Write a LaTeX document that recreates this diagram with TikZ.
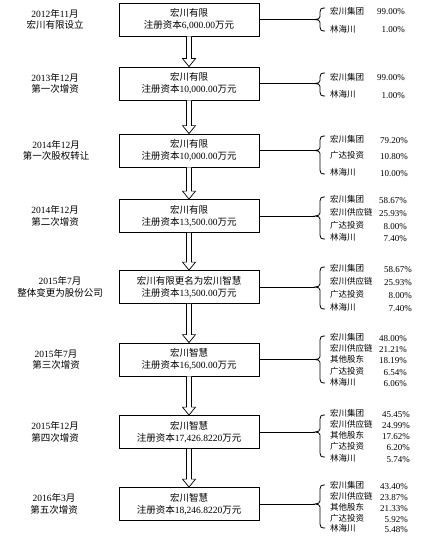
\documentclass[tikz,border=0pt]{standalone}
\usepackage{fontspec}
\setmainfont{Liberation Serif}
\newfontfamily\cjk{Noto Sans CJK SC}
\usetikzlibrary{calc}
\newcommand\zh[1]{{\cjk #1}}
\tikzset{
 stage/.style={draw, line width=0.8pt, minimum width=140pt, minimum height=33pt, inner sep=0pt, align=center, font=\fontsize{9.5}{12}\selectfont},
 when/.style={align=center, font=\fontsize{9.5}{11.5}\selectfont},
 holder/.style={anchor=base west, font=\fontsize{8.5}{8.5}\selectfont\cjk, inner sep=0pt},
 pct/.style={anchor=base east, font=\fontsize{9}{9}\selectfont, inner sep=0pt},
 link/.style={line width=0.8pt},
 hollow/.style={draw, line width=0.7pt, fill=white},
}
% #1 id, #2 y, #3 name, #4 pct, #5 right x
\newcommand\holderrow[5]{\node[holder] (n#1) at (330,#2+3.2) {#3}; \node[pct] (p#1) at (#5,#2+4) {#4};}
% #1 top, #2 tip y, #3 bottom
\newcommand\bracepath[3]{\draw[link] (325,#1) .. controls (321,#1) and (320,#1+1) .. (320,#1+4) -- (320,#2-3) .. controls (320,#2-1) and (318,#2) .. (315,#2) .. controls (318,#2) and (320,#2+1) .. (320,#2+3) -- (320,#3-4) .. controls (320,#3-1) and (321,#3) .. (325,#3);}
\newcommand\hollowarrow[2]{\draw[hollow] ($(#1.south)+(-2.5,0)$) -- ($(#2.north)+(-2.5,-8)$) -- ($(#2.north)+(-6.5,-8)$) -- (#2.north) -- ($(#2.north)+(6.5,-8)$) -- ($(#2.north)+(2.5,-8)$) -- ($(#1.south)+(2.5,0)$);}
\begin{document}
\begin{tikzpicture}[x=1pt,y=-1pt]
\path[fill=white, use as bounding box] (0,0) rectangle (432,543);
% stages
\node[stage] (b1) at (189,19.5) {\zh{宏川有限}\\\zh{注册资本}6,000.00\zh{万元}};
\node[stage] (b2) at (189,83.5) {\zh{宏川有限}\\\zh{注册资本}10,000.00\zh{万元}};
\node[stage] (b3) at (189,150.5) {\zh{宏川有限}\\\zh{注册资本}10,000.00\zh{万元}};
\node[stage] (b4) at (189,216) {\zh{宏川有限}\\\zh{注册资本}13,500.00\zh{万元}};
\node[stage] (b5) at (189,287) {\zh{宏川有限更名为宏川智慧}\\\zh{注册资本}13,500.00\zh{万元}};
\node[stage] (b6) at (189,359.5) {\zh{宏川智慧}\\\zh{注册资本}16,500.00\zh{万元}};
\node[stage] (b7) at (189,432) {\zh{宏川智慧}\\\zh{注册资本}17,426.8220\zh{万元}};
\node[stage] (b8) at (189,504) {\zh{宏川智慧}\\\zh{注册资本}18,246.8220\zh{万元}};
% dates
\node[when] (w1) at (55,19.5) {2012\zh{年}11\zh{月}\\\zh{宏川有限设立}};
\node[when] (w2) at (55,83.5) {2013\zh{年}12\zh{月}\\\zh{第一次增资}};
\node[when] (w3) at (56,150.5) {2014\zh{年}12\zh{月}\\\zh{第一次股权转让}};
\node[when] (w4) at (55,216) {2014\zh{年}12\zh{月}\\\zh{第二次增资}};
\node[when] (w5) at (60,287) {2015\zh{年}7\zh{月}\\\zh{整体变更为股份公司}};
\node[when] (w6) at (56,359.5) {2015\zh{年}7\zh{月}\\\zh{第三次增资}};
\node[when] (w7) at (55,432) {2015\zh{年}12\zh{月}\\\zh{第四次增资}};
\node[when] (w8) at (54,504) {2016\zh{年}3\zh{月}\\\zh{第五次增资}};
% arrows
\hollowarrow{b1}{b2}
\hollowarrow{b2}{b3}
\hollowarrow{b3}{b4}
\hollowarrow{b4}{b5}
\hollowarrow{b5}{b6}
\hollowarrow{b6}{b7}
\hollowarrow{b7}{b8}
% links to braces
\foreach \i/\y in {1/19.5,2/83.5,3/150.5,4/216,5/287,6/359.5,7/432,8/504}{
  \coordinate (t\i) at (315,\y);
  \draw[link] (b\i.east) -- (t\i);
}
% group 1
\bracepath{8}{19.5}{31}
\holderrow{11}{11}{宏川集团}{99.00\%}{405}
\holderrow{12}{29}{林海川}{1.00\%}{405}
% group 2
\bracepath{73}{83.5}{96}
\holderrow{21}{77}{宏川集团}{99.00\%}{405}
\holderrow{22}{94}{林海川}{1.00\%}{405}
% group 3
\bracepath{136}{150.5}{174}
\holderrow{31}{139}{宏川集团}{79.20\%}{408}
\holderrow{32}{155}{广达投资}{10.80\%}{408}
\holderrow{33}{172}{林海川}{10.00\%}{408}
% group 4
\bracepath{197}{216}{239}
\holderrow{41}{199}{宏川集团}{58.67\%}{407}
\holderrow{42}{212}{宏川供应链}{25.93\%}{407}
\holderrow{43}{225}{广达投资}{8.00\%}{407}
\holderrow{44}{237}{林海川}{7.40\%}{407}
% group 5
\bracepath{267}{287}{309}
\holderrow{51}{268}{宏川集团}{58.67\%}{412}
\holderrow{52}{281}{宏川供应链}{25.93\%}{412}
\holderrow{53}{294}{广达投资}{8.00\%}{412}
\holderrow{54}{307}{林海川}{7.40\%}{412}
% group 6
\bracepath{336}{359.5}{383}
\holderrow{61}{337}{宏川集团}{48.00\%}{407}
\holderrow{62}{348}{宏川供应链}{21.21\%}{407}
\holderrow{63}{359}{其他股东}{18.19\%}{407}
\holderrow{64}{371}{广达投资}{6.54\%}{407}
\holderrow{65}{382}{林海川}{6.06\%}{407}
% group 7
\bracepath{415}{432}{457}
\holderrow{71}{413}{宏川集团}{45.45\%}{410}
\holderrow{72}{424}{宏川供应链}{24.99\%}{410}
\holderrow{73}{435}{其他股东}{17.62\%}{410}
\holderrow{74}{446}{广达投资}{6.20\%}{410}
\holderrow{75}{458}{林海川}{5.74\%}{410}
% group 8
\bracepath{485}{504}{528}
\holderrow{81}{485}{宏川集团}{43.40\%}{408}
\holderrow{82}{496}{宏川供应链}{23.87\%}{408}
\holderrow{83}{507}{其他股东}{21.33\%}{408}
\holderrow{84}{518}{广达投资}{5.92\%}{408}
\holderrow{85}{528}{林海川}{5.48\%}{408}
\end{tikzpicture}
\end{document}
